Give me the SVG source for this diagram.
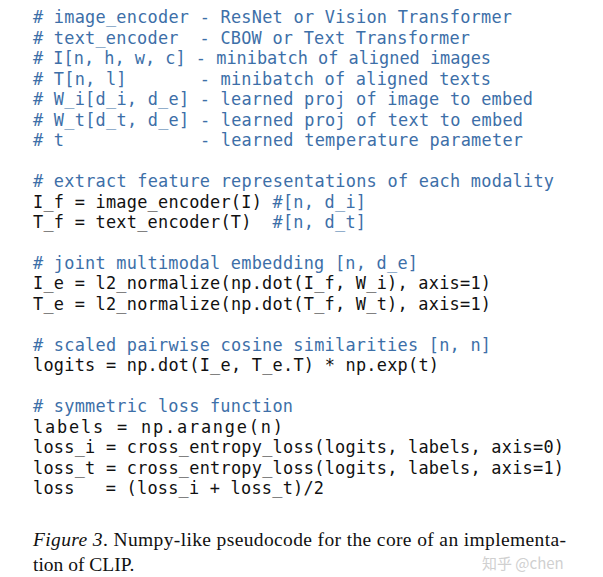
<svg xmlns="http://www.w3.org/2000/svg" width="603" height="577" viewBox="0 0 603 577">
<style>
text{font-family:"DejaVu Sans Mono","Liberation Mono",monospace;font-size:16.9px;white-space:pre}
.c{fill:#3d6fa8}.k{fill:#111}
.cap{font-family:"Liberation Serif",serif;font-size:19.5px;fill:#111}
.wm{font-family:"Noto Sans CJK SC","Noto Sans",sans-serif;font-size:15px;fill:#d0d0d0}
</style>
<rect width="603" height="577" fill="#fff"/>
<g xml:space="preserve">
<text class="c" x="33" y="23" textLength="479"># image_encoder - ResNet or Vision Transformer</text>
<text class="c" x="33" y="44" textLength="437"># text_encoder  - CBOW or Text Transformer</text>
<text class="c" x="33" y="64" textLength="458"># I[n, h, w, c] - minibatch of aligned images</text>
<text class="c" x="33" y="85" textLength="458"># T[n, l]       - minibatch of aligned texts</text>
<text class="c" x="33" y="105" textLength="500"># W_i[d_i, d_e] - learned proj of image to embed</text>
<text class="c" x="33" y="126" textLength="490"># W_t[d_t, d_e] - learned proj of text to embed</text>
<text class="c" x="33" y="146" textLength="490"># t             - learned temperature parameter</text>
<text class="c" x="33" y="187" textLength="521"># extract feature representations of each modality</text>
<text class="k" x="33" y="208" textLength="333">I_f = image_encoder(I) <tspan class="c">#[n, d_i]</tspan></text>
<text class="k" x="33" y="228" textLength="333">T_f = text_encoder(T)  <tspan class="c">#[n, d_t]</tspan></text>
<text class="c" x="33" y="269" textLength="385"># joint multimodal embedding [n, d_e]</text>
<text class="k" x="33" y="289" textLength="458">I_e = l2_normalize(np.dot(I_f, W_i), axis=1)</text>
<text class="k" x="33" y="310" textLength="458">T_e = l2_normalize(np.dot(T_f, W_t), axis=1)</text>
<text class="c" x="33" y="351" textLength="458"># scaled pairwise cosine similarities [n, n]</text>
<text class="k" x="33" y="371" textLength="406">logits = np.dot(I_e, T_e.T) * np.exp(t)</text>
<text class="c" x="33" y="412" textLength="260"># symmetric loss function</text>
<text class="k" x="33" y="433" textLength="250">labels = np.arange(n)</text>
<text class="k" x="33" y="453" textLength="531">loss_i = cross_entropy_loss(logits, labels, axis=0)</text>
<text class="k" x="33" y="474" textLength="531">loss_t = cross_entropy_loss(logits, labels, axis=1)</text>
<text class="k" x="33" y="494" textLength="291">loss   = (loss_i + loss_t)/2</text>
</g>
<text class="cap" x="33" y="546" textLength="533"><tspan font-style="italic">Figure 3</tspan>. Numpy-like pseudocode for the core of an implementa-</text>
<text class="cap" x="33" y="571">tion of CLIP.</text>
<text class="wm" x="482" y="569">知乎 @chen</text>
</svg>
